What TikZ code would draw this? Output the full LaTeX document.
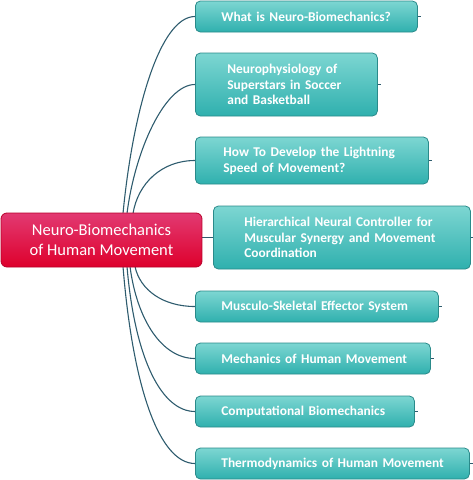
\documentclass[tikz,border=0pt]{standalone}
\usepackage{fontspec}
\setmainfont{Carlito}
\usetikzlibrary{backgrounds}
\definecolor{tealtop}{HTML}{7DD6D2}
\definecolor{tealbot}{HTML}{2FB0AE}
\definecolor{tealedge}{HTML}{2A8A8A}
\definecolor{redtop}{HTML}{E23A72}
\definecolor{redbot}{HTML}{DE002C}
\definecolor{rededge}{HTML}{B8002A}
\definecolor{linkcol}{HTML}{2E5C6E}
\tikzset{
  topicbox/.style={draw=tealedge, line width=0.8pt, rounded corners=5pt,
    top color=tealtop, bottom color=tealbot, text=white, anchor=west,
    font=\bfseries\fontsize{13.4}{15.8}\selectfont, align=left,
    inner ysep=0pt, execute at begin node={\hbadness=10000\hfuzz=200pt}},
  rootbox/.style={draw=rededge, line width=0.8pt, rounded corners=6pt,
    top color=redtop, bottom color=redbot, text=white,
    font=\fontsize{16.5}{19.5}\selectfont, align=center,
    minimum width=201pt, minimum height=54pt, inner sep=0pt},
  link/.style={draw=linkcol, line width=1.1pt},
  stub/.style={draw=linkcol, line width=0.8pt}
}
\begin{document}
\begin{tikzpicture}[x=1pt,y=-1pt]
\useasboundingbox (0,0) rectangle (473,480);
\node[rootbox] (root) at (101.5,240) {Neuro-Biomechanics\\of Human Movement};
\node[topicbox, minimum height=31pt, text width=170pt, inner xsep=26pt] (b1) at (195,16.5) {\mbox{What is Neuro-Biomechanics?}};
\node[topicbox, minimum height=63pt, text width=118pt, inner xsep=32pt] (b2) at (195,84.5) {\mbox{Neurophysiology of}\\\mbox{Superstars in Soccer}\\\mbox{and Basketball}};
\node[topicbox, minimum height=47pt, text width=177pt, inner xsep=28pt] (b3) at (195,160.5) {\mbox{How To Develop the Lightning}\\\mbox{Speed of Movement?}};
\node[topicbox, minimum height=63pt, text width=195pt, inner xsep=31pt] (b4) at (213,237.5) {\mbox{Hierarchical Neural Controller for}\\\mbox{Muscular Synergy and Movement}\\\mbox{Coordination}};
\node[topicbox, minimum height=31pt, text width=191pt, inner xsep=26pt] (b5) at (195,306.5) {\mbox{Musculo-Skeletal Effector System}};
\node[topicbox, minimum height=31pt, text width=183pt, inner xsep=26pt] (b6) at (195,358.5) {\mbox{Mechanics of Human Movement}};
\node[topicbox, minimum height=31pt, text width=167pt, inner xsep=26pt] (b7) at (195,411.5) {\mbox{Computational Biomechanics}};
\node[topicbox, minimum height=31pt, text width=222pt, inner xsep=26pt] (b8) at (195,463.5) {\mbox{Thermodynamics of Human Movement}};
\coordinate (s1) at (123,213.5);
\coordinate (s2) at (127,213.5);
\coordinate (s3) at (133,213.5);
\coordinate (s5) at (135,266.5);
\coordinate (s6) at (130,266.5);
\coordinate (s7) at (127,266.5);
\coordinate (s8) at (123,266.5);
\begin{pgfonlayer}{background}
\draw[link] (s1) .. controls (133,110) and (160,16.5) .. (b1.west);
\draw[link] (s2) .. controls (135,150) and (165,84.5) .. (b2.west);
\draw[link] (s3) .. controls (138,183) and (162,160.5) .. (b3.west);
\draw[link] (root.east |- b4.west) -- (b4.west);
\draw[link] (s5) .. controls (140,290) and (163,306.5) .. (b5.west);
\draw[link] (s6) .. controls (137,320) and (162,358.5) .. (b6.west);
\draw[link] (s7) .. controls (135,360) and (162,411.5) .. (b7.west);
\draw[link] (s8) .. controls (133,390) and (160,463.5) .. (b8.west);
\end{pgfonlayer}
\foreach \b in {b1,b2,b3,b4,b5,b6,b7,b8}{
  \draw[stub] (\b.east) -- ++(3,0);
}
\end{tikzpicture}
\end{document}
